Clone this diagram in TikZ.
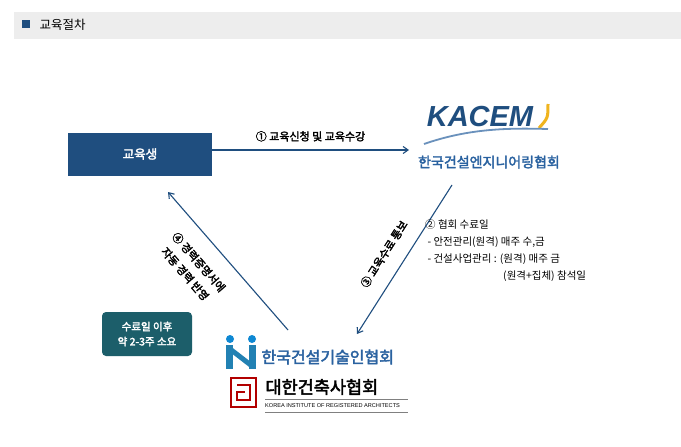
\documentclass[tikz,border=0pt]{standalone}
\usepackage{fontspec}
\setmainfont{Noto Sans CJK KR}[AutoFakeBold=2.5]
\newfontfamily\latinbi{Liberation Sans}
\usetikzlibrary{arrows.meta}
\definecolor{navy}{HTML}{1F4E7F}
\definecolor{teal2}{HTML}{1C5E6A}
\definecolor{kblue}{HTML}{2A62A0}
\definecolor{hdr}{HTML}{EDEDED}
\tikzset{
 conn/.style={draw=navy,line width=1.1pt,-{Straight Barb[length=5pt,width=7pt]}},
 lbl/.style={font=\fontsize{11}{13}\selectfont\bfseries,inner sep=1pt},
}
\begin{document}
\begin{tikzpicture}[x=1pt,y=-1pt]
\useasboundingbox (0,0) rectangle (681,447);
\fill[white] (0,0) rectangle (681,447);
\fill[hdr] (14,12) rectangle (681,39);
\fill[navy] (22,20) rectangle (30,28);
\node[anchor=west,font=\fontsize{12.5}{14}\selectfont] (hd) at (36,25) {교육절차};

\node[fill=navy,minimum width=144pt,minimum height=43pt,text=white,font=\fontsize{12.5}{14}\selectfont\bfseries] (stu) at (140,154) {교육생};

\node[font=\latinbi\fontsize{29}{30}\selectfont\bfseries\itshape,text=navy,inner sep=0pt] (kacem) at (480,117) {KACEM};
\draw[draw={rgb,255:red,240;green,180;blue,30},line width=3pt] (548,104) .. controls (548,118) .. (539,128);
\draw[kblue!70,line width=1.8pt] (424,144) .. controls (470,128) and (510,128) .. (548,129);
\node[font=\fontsize{14}{16}\selectfont\bfseries,text=kblue] (kname) at (489,162) {한국건설엔지니어링협회};

\coordinate (a1s) at (212,150);
\coordinate (a1e) at (409,150);
\draw[conn] (a1s) -- node[lbl,above=7pt] {① 교육신청 및 교육수강} (a1e);

\coordinate (a3s) at (452,185);
\coordinate (a3e) at (357,334);
\draw[conn] (a3s) -- (a3e);
\node[lbl,rotate=57.5] (l3) at (384,254) {③ 교육수료 통보};

\node[anchor=north west,align=left,font=\fontsize{10.5}{17}\selectfont,inner sep=0pt] (t2) at (425,219)
 {② 협회 수료일\\\ - 안전관리(원격) 매주 수,금\\\ - 건설사업관리 : (원격) 매주 금\\\hspace*{78pt}(원격+집체) 참석일};

\coordinate (a4s) at (288,330);
\coordinate (a4e) at (168,192);
\draw[conn] (a4s) -- (a4e);
\node[rotate=-49,align=center,font=\fontsize{11}{13}\selectfont\bfseries,inner sep=1pt] (l4) at (192,268) {④ 경력증명서에\\[5pt]자동 경력 반영};

\node[fill=teal2,rounded corners=4pt,minimum width=90pt,minimum height=44pt,text=white,align=center,font=\fontsize{10.5}{15}\selectfont\bfseries] (tb) at (147,334) {수료일 이후\\약 2-3주 소요};

% KOCEA logo
\fill[kblue!80!cyan] (226,345) rectangle (233,369);
\fill[kblue!80!cyan] (249,345) rectangle (256,369);
\draw[kblue!80!cyan,line width=5pt] (230,349) -- (252,366);
\fill[cyan!70!blue] (230,339) circle (4);
\fill[cyan!70!blue] (252,339) circle (4);
\node[anchor=west,font=\fontsize{16}{18}\selectfont\bfseries,text=kblue] (kocea) at (258,357) {한국건설기술인협회};
% KIRA logo
\draw[red!70!black,line width=2.5pt] (231,378) rectangle (256,407);
\draw[red!70!black,line width=2pt] (237,385) -- (250,385) -- (250,400) -- (237,400) -- (237,392) -- (245,392);
\node[anchor=west,font=\fontsize{17.5}{19}\selectfont\bfseries] (kira) at (262,387) {대한건축사협회};
\draw[gray,line width=0.6pt] (265,399) -- (408,399) (265,412) -- (408,412);
\node[anchor=west,font=\latinbi\fontsize{5.6}{6}\selectfont,inner sep=0pt] (kiraen) at (265,405.5) {KOREA INSTITUTE OF REGISTERED ARCHITECTS};
\end{tikzpicture}
\end{document}
